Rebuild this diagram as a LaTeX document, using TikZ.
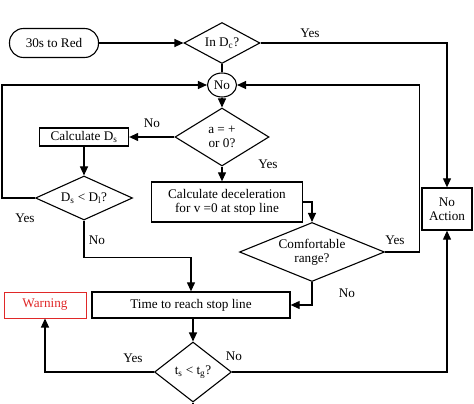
\documentclass[tikz,border=0pt]{standalone}
\usepackage{fontspec}
\setmainfont{Liberation Serif}
\usetikzlibrary{shapes.geometric, arrows.meta, positioning}
\definecolor{warnred}{HTML}{E02828}

\begin{document}
\begin{tikzpicture}[
    x=1pt, y=-1pt,
    font=\fontsize{13.2}{14}\selectfont,
    process/.style={rectangle, draw, line width=1.3pt, inner sep=2pt, align=center},
    decision/.style={diamond, draw, line width=1.1pt, inner sep=0pt, align=center},
    flow/.style={-{Triangle[length=9pt, width=8pt]}, line width=1.1pt},
    link/.style={line width=1.1pt},
    lbl/.style={inner sep=1pt},
]
    \useasboundingbox (0,0) rectangle (474,404);

    % start and first check
    \node[rectangle, draw, rounded corners=14pt, line width=1.1pt,
          minimum width=89pt, minimum height=29pt] (start) at (54,43) {30s to Red};
    \node[decision, minimum width=76pt, minimum height=41pt, aspect=1.85] (indc) at (222,43) {In D\textsubscript{c}?};
    \node[ellipse, draw, line width=1.1pt, inner sep=0pt,
          minimum width=29pt, minimum height=24pt] (noc) at (222,85) {No};

    % acceleration branch
    \node[decision, minimum width=94pt, minimum height=58pt, aspect=1.6] (adec) at (222,137) {a = +\\or 0?};
    \node[process, minimum width=89pt, minimum height=18pt] (calcds) at (84,137) {Calculate D\textsubscript{s}};
    \node[decision, minimum width=97pt, minimum height=44pt, aspect=2.2] (dsdl) at (84,198) {D\textsubscript{s} < D\textsubscript{l}?};

    % deceleration branch
    \node[process, minimum width=151pt, minimum height=40pt] (calcdec) at (227,202) {Calculate deceleration\\for v =0 at stop line};
    \node[decision, minimum width=145pt, minimum height=59pt, aspect=2.46] (comf) at (312,252) {Comfortable\\range?};

    % time check
    \node[process, minimum width=198pt, minimum height=26pt] (time) at (191,305) {Time to reach stop line};
    \node[process, draw=warnred, text=warnred, line width=1pt,
          minimum width=82pt, minimum height=26pt] (warn) at (45,305) {Warning};
    \node[decision, minimum width=77pt, minimum height=60pt, aspect=1.3] (tdec) at (193,372) {t\textsubscript{s} < t\textsubscript{g}?};
    \node[process, minimum width=50pt, minimum height=42pt] (noact) at (447,209) {No\\Action};

    % connectors
    \draw[flow] (start) -- (indc);
    \draw[flow] (indc.east) -| (noact.north);
    \draw[link] (indc.south) -- (noc.north);
    \draw[flow] (dsdl.west) -- ++(-33,0) |- (noc.west);
    \draw[flow] (comf.east) -- ++(34,0) |- (noc.east);
    \draw[flow] (noc) -- (adec);
    \draw[flow] (adec.west) -- (calcds.east);
    \draw[flow] (calcds) -- (dsdl);
    \draw[flow] (dsdl.south) -- ++(0,37) -| (time.north);
    \draw[flow] (adec.south) -- (adec.south |- calcdec.north);
    \draw[flow] (calcdec.east) -| (comf.north);
    \draw[flow] (comf.south) |- (time.east);
    \draw[flow] (tdec.north |- time.south) -- (tdec);
    \draw[flow] (tdec.west) -| (warn.south);
    \draw[flow] (tdec.east) -| (noact.south);
    \draw[link] (tdec.south) -- ++(0,12);

    % labels
    \node[lbl] (yindc) at (310,33) {Yes};
    \node[lbl] (nadec) at (152,123) {No};
    \node[lbl] (yadec) at (268,164) {Yes};
    \node[lbl] (ydsdl) at (25,218) {Yes};
    \node[lbl] (ndsdl) at (97,240) {No};
    \node[lbl] (ycomf) at (395,240) {Yes};
    \node[lbl] (ncomf) at (347,293) {No};
    \node[lbl] (ytdec) at (133,358) {Yes};
    \node[lbl] (ntdec) at (234,356) {No};

\end{tikzpicture}
\end{document}
